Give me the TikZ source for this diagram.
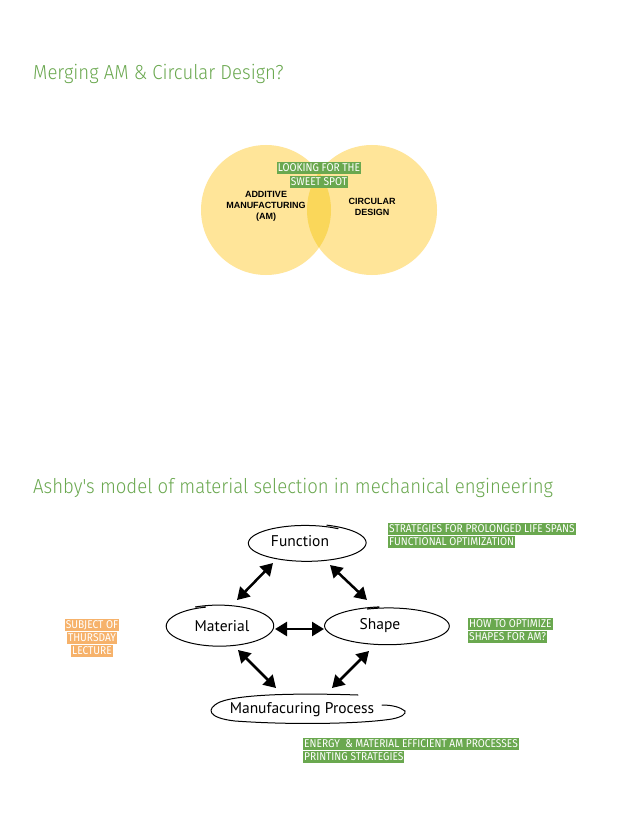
\documentclass[tikz,border=0pt]{standalone}
\usepackage{fontspec}
\setmainfont{PT Sans}
\newfontfamily\ttlfont[UprightFont=* Light, FakeStretch=0.915]{Fira Sans}
\newfontfamily\lblfont[FakeStretch=0.9]{Fira Sans}
\newfontfamily\arialfont{Liberation Sans}
\usetikzlibrary{arrows.meta,shapes.geometric}
\definecolor{ttlgreen}{HTML}{6AA84F}
\definecolor{hlgreen}{HTML}{6AA84F}
\definecolor{hlorange}{HTML}{F6B26B}
\definecolor{cyellow}{HTML}{FFE599}
\definecolor{cdark}{HTML}{FAD75A}
\newcommand{\handell}[7]{%
  \draw[sk] plot[domain=0:#6, samples=90, smooth]
   ({#1+#3*(1+#7*\x/360)*cos(\x+#5)}, {#2+#4*(1+#7*\x/360)*sin(\x+#5)});}
\begin{document}
\begin{tikzpicture}[x=1pt,y=-1pt,
  ttl/.style={anchor=base west, inner sep=0pt, text=ttlgreen, font=\ttlfont\fontsize{20.3}{24}\selectfont},
  hl/.style={fill=hlgreen, text=white, inner xsep=1pt, inner ysep=0.6pt, text height=9pt, text depth=2.6pt,
    font=\lblfont\fontsize{11.3}{13}\selectfont},
  hlo/.style={hl, fill=hlorange},
  venn/.style={align=center, inner sep=0pt, font=\arialfont\bfseries\fontsize{9}{11}\selectfont},
  ashby/.style={ellipse, draw=none, inner sep=0pt, font=\fontsize{15.5}{18}\selectfont},
  sk/.style={line width=1pt, black, line cap=round},
  dbl/.style={line width=2.5pt, {Triangle[length=12pt,width=14pt]}-{Triangle[length=12pt,width=14pt]}}
]
\useasboundingbox[fill=white] (0,0) rectangle (638,826);

% ---- Title 1
\node[ttl] (t1) at (33,80) {Merging AM \& Circular Design?};

% ---- Venn
\fill[cyellow] (266,210) circle (65);
\fill[cyellow] (372,210) circle (65);
\begin{scope}
  \clip (266,210) circle (65);
  \fill[cdark] (372,210) circle (65);
\end{scope}
\node[venn] (am) at (266,206) {ADDITIVE\\MANUFACTURING\\(AM)};
\node[venn] (cd) at (372,207) {CIRCULAR\\DESIGN};
\node[hl] (ss1) at (319,168) {LOOKING FOR THE};
\node[hl] (ss2) at (319,182) {SWEET SPOT};

% ---- Title 2
\node[ttl] (t2) at (33,493) {Ashby's model of material selection in mechanical engineering};

% ---- Ashby diagram
\node[ashby] (F) at (300,541) {Function};
\node[ashby] (M) at (222,626) {Material};
\node[ashby] (S) at (380,626) {Shape};
\node[ashby] (P) at (302,710) {Manufacuring Process};

\handell{306}{543}{61}{19}{-70}{375}{-0.08}
\handell{219}{626}{56}{21}{-115}{370}{-0.07}
\handell{388}{626}{60}{18}{-110}{372}{0.07}
% manufacturing loop
\draw[sk] (358,695) .. controls (300,693) and (240,694) .. (220,702)
  .. controls (205,709) and (208,718) .. (235,721)
  .. controls (290,725) and (360,724) .. (392,719)
  .. controls (402,717) and (406,714) .. (405,711);
\draw[sk] (382,705) .. controls (392,705) and (400,707) .. (405,711);

\coordinate (fm1) at (273,563); \coordinate (fm2) at (237,600);
\coordinate (fs1) at (330,565); \coordinate (fs2) at (367,600);
\coordinate (ms1) at (275,629); \coordinate (ms2) at (324,629);
\coordinate (mp1) at (238,650); \coordinate (mp2) at (276,688);
\coordinate (sp1) at (369,651); \coordinate (sp2) at (332,688);
\draw[dbl] (fm1) -- (fm2);
\draw[dbl] (fs1) -- (fs2);
\draw[dbl] (ms1) -- (ms2);
\draw[dbl] (mp1) -- (mp2);
\draw[dbl] (sp1) -- (sp2);

% ---- labels
\node[hl, anchor=west] (a1) at (388,529) {STRATEGIES FOR PROLONGED LIFE SPANS};
\node[hl, anchor=west] (a2) at (388,542) {FUNCTIONAL OPTIMIZATION};
\node[hl, anchor=west] (b1) at (468,624) {HOW TO OPTIMIZE};
\node[hl, anchor=west] (b2) at (468,637) {SHAPES FOR AM?};
\node[hl, anchor=west] (c1) at (303,744) {ENERGY\ \ \&\ MATERIAL EFFICIENT AM PROCESSES};
\node[hl, anchor=west] (c2) at (303,757) {PRINTING STRATEGIES};
\node[hlo] (d1) at (92,625) {SUBJECT OF};
\node[hlo] (d2) at (92,638) {THURSDAY};
\node[hlo] (d3) at (92,651) {LECTURE};
\end{tikzpicture}
\end{document}
